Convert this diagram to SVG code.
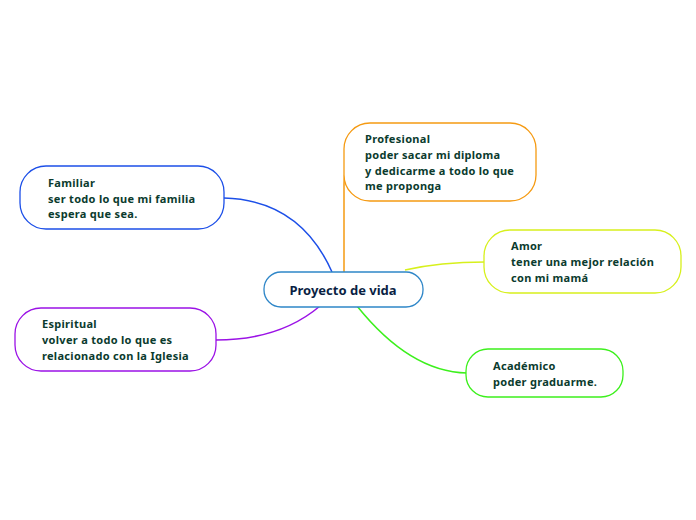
<svg xmlns="http://www.w3.org/2000/svg" width="696" height="520" viewBox="0 0 696 520">
<style>
text{font-family:"Noto Sans","Open Sans",sans-serif;font-size:11px;font-weight:bold;fill:#0b3b2e;letter-spacing:0.3px}
.n{fill:#fff;stroke-width:1.3}
.c{fill:none;stroke-width:1.5}
</style>
<rect width="696" height="520" fill="#fff"/>
<g id="connectors">
<path class="c" stroke="#1c4fe8" d="M332,272 Q300,200 224,198"/>
<path class="c" stroke="#f59a12" d="M344,272 L344,185 Q344,175 346,168"/>
<path class="c" stroke="#d7f01c" d="M405,270 Q440,262 485,262"/>
<path class="c" stroke="#3cf01c" d="M357,306 Q410,372 467,373"/>
<path class="c" stroke="#9b12e6" d="M320,306 Q280,340 216,340"/>
</g>
<g id="center"><rect class="n" stroke="#2e86c8" x="264" y="272" width="159" height="35" rx="17"/>
<text x="343" y="295" text-anchor="middle" style="font-size:13px;fill:#0a1f44;letter-spacing:0">Proyecto de vida</text></g>
<g id="profesional"><rect class="n" stroke="#f59a12" x="344" y="123" width="192" height="78" rx="26"/>
<text x="365" y="143">Profesional</text><text x="365" y="159">poder sacar mi diploma</text><text x="365" y="175">y dedicarme a todo lo que</text><text x="365" y="190">me proponga</text></g>
<g id="familiar"><rect class="n" stroke="#1c4fe8" x="20" y="166" width="204" height="63" rx="26"/>
<text x="48" y="187">Familiar</text><text x="48" y="203">ser todo lo que mi familia</text><text x="48" y="218">espera que sea.</text></g>
<g id="amor"><rect class="n" stroke="#d7f01c" x="484" y="230" width="197" height="63" rx="26"/>
<text x="511" y="250">Amor</text><text x="511" y="266">tener una mejor relación</text><text x="511" y="282">con mi mamá</text></g>
<g id="espiritual"><rect class="n" stroke="#9b12e6" x="15" y="308" width="201" height="63" rx="26"/>
<text x="42" y="328">Espiritual</text><text x="42" y="344">volver a todo lo que es</text><text x="42" y="360">relacionado con la Iglesia</text></g>
<g id="academico"><rect class="n" stroke="#3cf01c" x="466" y="349" width="157" height="48" rx="22"/>
<text x="493" y="370">Académico</text><text x="493" y="386">poder graduarme.</text></g>
</svg>
